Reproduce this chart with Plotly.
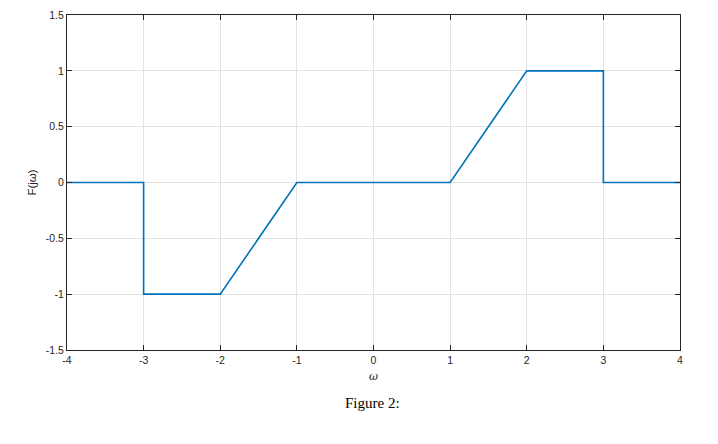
import plotly.graph_objects as go

omega = [-4, -3, -3, -2, -1, 1, 2, 3, 3, 4]
F = [0, 0, -1, -1, 0, 0, 1, 1, 0, 0]
x_ticks = [-4, -3, -2, -1, 0, 1, 2, 3, 4]
y_ticks = [-1.5, -1, -0.5, 0, 0.5, 1, 1.5]
y_tick_labels = ["-1.5", "-1", "-0.5", "0", "0.5", "1", "1.5"]

fig = go.Figure()
fig.add_trace(go.Scatter(x=omega, y=F, mode="lines",
                         line=dict(color="#0072BD", width=1.6),
                         showlegend=False, hoverinfo="skip"))

axis_common = dict(
    showgrid=True, gridcolor="#e3e3e3", gridwidth=1,
    showline=True, linecolor="#262626", linewidth=1, mirror="ticks",
    ticks="inside", ticklen=5, tickcolor="#262626", tickwidth=1,
    zeroline=False, automargin=False,
    tickfont=dict(family="Liberation Sans, Arial, sans-serif", size=10.5, color="#262626"),
)

fig.update_xaxes(range=[-4, 4], tickvals=x_ticks,
                 ticktext=[str(v) for v in x_ticks], **axis_common)
fig.update_yaxes(range=[-1.5, 1.5], tickvals=y_ticks, ticktext=y_tick_labels,
                 title=dict(text="F(jω)", standoff=6,
                            font=dict(family="Liberation Sans, Arial, sans-serif", size=11.5, color="#262626")),
                 **axis_common)

fig.add_annotation(text="<i>ω</i>", x=0.5, y=-0.08, xref="paper", yref="paper",
                   showarrow=False, xanchor="center", yanchor="middle",
                   font=dict(family="DejaVu Serif, serif", size=11, color="#262626"))
fig.add_annotation(text="Figure 2:", x=0.498, y=-0.158, xref="paper", yref="paper",
                   showarrow=False, xanchor="center", yanchor="middle",
                   font=dict(family="Liberation Serif, DejaVu Serif, serif", size=15, color="#000000"))

fig.update_layout(
    width=710, height=436,
    margin=dict(l=59, r=38, t=7, b=94, autoexpand=False),
    paper_bgcolor="white", plot_bgcolor="white",
)

fig.write_html("out.html")
